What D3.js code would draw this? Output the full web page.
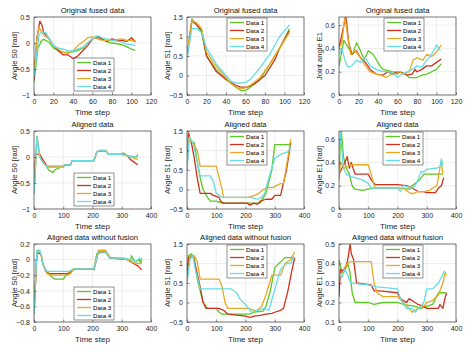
<!DOCTYPE html>
<html>
<head>
<meta charset="utf-8">
<script src="https://cdn.jsdelivr.net/npm/d3@7"></script>
<style>
  body { margin: 0; background: #fff; }
  svg { display: block; font-family: "Liberation Sans", Arial, sans-serif; }
</style>
</head>
<body>
<div id="chart"></div>
<script>
// series names + colours
const seriesNames = ["Data 1", "Data 2", "Data 3", "Data 4"];
const seriesColors = ["#5cc823", "#d0321d", "#e9a924", "#66dde6"];

// ---- Original fused data (time step 0..105) ----
const origS0 = [
  [[0,-0.75],[4,-0.1],[8,0.05],[10,0.07],[15,0.02],[20,-0.1],[25,-0.15],[30,-0.18],[35,-0.18],[40,-0.17],[45,-0.14],[50,-0.1],[55,0],[58,0.05],[63,0.12],[68,0.1],[75,0.02],[80,0],[90,-0.03],[95,-0.07],[100,-0.12],[104,-0.14]],
  [[0,-0.7],[3,0.1],[6,0.42],[8,0.35],[10,0.2],[15,0.1],[20,-0.05],[25,-0.15],[30,-0.23],[35,-0.23],[40,-0.3],[45,-0.25],[50,-0.15],[55,-0.05],[60,0.08],[65,0.12],[70,0.07],[75,0.03],[80,0.08],[85,0.05],[90,0.05],[95,0.03],[100,0.1],[104,0.02]],
  [[0,-0.6],[3,0.1],[5,0.3],[10,0.15],[15,0.08],[20,-0.05],[25,-0.12],[30,-0.18],[35,-0.2],[40,-0.15],[45,-0.05],[52,0.05],[55,0.1],[60,0.12],[65,0.08],[70,0.05],[80,0.05],[90,0.08],[95,0.05],[100,0.05],[104,0.03]],
  [[0,-0.65],[5,0.15],[8,0.22],[12,0.2],[15,0.1],[20,-0.05],[25,-0.1],[30,-0.12],[35,-0.15],[40,-0.15],[50,-0.08],[55,0],[60,0.08],[65,0.14],[70,0.1],[80,0.05],[90,0.02],[95,-0.02],[100,-0.03],[104,-0.05]]
];
const origS1 = [
  [[0,0.45],[5,1.45],[10,1.3],[15,1.1],[20,0.5],[30,0.15],[40,-0.1],[50,-0.3],[55,-0.38],[60,-0.38],[65,-0.3],[75,-0.1],[85,0.3],[95,0.7],[105,1.2]],
  [[0,0.5],[5,1.4],[10,1.3],[15,1.15],[20,0.5],[30,0.1],[40,-0.1],[50,-0.25],[55,-0.3],[62,-0.3],[70,-0.2],[80,0],[90,0.4],[95,0.7],[105,1.15]],
  [[0,0.5],[5,1.4],[10,1.35],[15,1.2],[20,0.6],[28,0.3],[38,0],[45,-0.2],[52,-0.32],[58,-0.33],[65,-0.25],[75,-0.05],[85,0.3],[95,0.7],[105,1.1]],
  [[0,0.45],[5,1.2],[10,1.2],[15,1.1],[20,0.7],[30,0.3],[40,0],[45,-0.15],[52,-0.2],[60,-0.18],[65,-0.1],[75,0.2],[85,0.55],[95,1.0],[105,1.3]]
];
const origE1 = [
  [[0,0.25],[5,0.47],[10,0.4],[14,0.35],[18,0.45],[22,0.38],[26,0.3],[30,0.38],[35,0.35],[42,0.25],[45,0.22],[50,0.21],[55,0.2],[60,0.18],[62,0.2],[68,0.18],[72,0.15],[80,0.15],[85,0.17],[90,0.18],[95,0.2],[100,0.22],[105,0.27]],
  [[0,0.4],[5,0.6],[7,0.68],[10,0.45],[13,0.35],[18,0.38],[22,0.32],[27,0.28],[32,0.22],[38,0.18],[45,0.17],[50,0.2],[55,0.18],[60,0.2],[65,0.19],[70,0.17],[75,0.18],[78,0.22],[80,0.2],[85,0.22],[90,0.25],[95,0.25],[100,0.28],[105,0.31]],
  [[0,0.4],[3,0.45],[6,0.68],[9,0.5],[12,0.35],[17,0.38],[22,0.32],[27,0.25],[32,0.2],[38,0.18],[43,0.17],[48,0.15],[52,0.17],[57,0.2],[62,0.2],[66,0.18],[72,0.2],[76,0.3],[80,0.32],[86,0.3],[90,0.35],[95,0.33],[100,0.37],[105,0.43]],
  [[0,0.35],[3,0.4],[6,0.3],[9,0.24],[13,0.25],[18,0.3],[22,0.28],[27,0.32],[32,0.25],[38,0.22],[45,0.2],[50,0.2],[55,0.19],[60,0.15],[65,0.18],[70,0.2],[75,0.22],[80,0.25],[85,0.24],[90,0.3],[95,0.35],[100,0.43],[104,0.38]]
];

// ---- Aligned data (time step 0..358) ----
const alignS0 = [
  [[0,-0.7],[10,0.4],[20,0],[30,-0.1],[45,-0.2],[50,-0.25],[65,-0.3],[70,-0.25],[90,-0.2],[100,-0.2],[105,-0.15],[125,-0.15],[130,-0.07],[205,-0.07],[215,0.1],[225,0.12],[245,0.12],[255,0.05],[300,0.05],[305,0.08],[320,0.02],[350,0],[355,0.05]],
  [[0,-0.7],[5,0.05],[20,0.05],[30,-0.05],[45,-0.18],[100,-0.18],[105,-0.15],[125,-0.15],[130,-0.07],[205,-0.07],[215,0.1],[225,0.12],[245,0.12],[255,0.05],[300,0.05],[320,0.02],[330,-0.05],[355,-0.15]],
  [[0,-0.7],[10,0.35],[20,0],[30,-0.1],[45,-0.18],[100,-0.18],[105,-0.15],[125,-0.15],[130,-0.07],[205,-0.07],[215,0.1],[225,0.13],[245,0.13],[255,0.05],[300,0.05],[320,0.02],[340,-0.02],[355,-0.05]],
  [[0,-0.7],[10,0.38],[20,0],[30,-0.1],[45,-0.2],[100,-0.2],[105,-0.15],[125,-0.15],[130,-0.07],[205,-0.07],[215,0.1],[225,0.12],[245,0.12],[255,0.05],[300,0.05],[320,0.02],[340,0],[355,0]]
];
const alignS1 = [
  [[0,0.5],[5,1.4],[15,1.2],[25,1.2],[35,0.7],[45,0.3],[55,0],[70,-0.2],[80,-0.3],[100,-0.3],[120,-0.35],[250,-0.35],[270,-0.1],[290,0.5],[300,1.15],[350,1.15],[355,1.2]],
  [[0,0.5],[5,1.45],[15,1.2],[25,0.8],[35,0.3],[45,-0.1],[80,-0.1],[90,-0.15],[110,-0.2],[115,-0.3],[125,-0.35],[205,-0.35],[215,-0.4],[230,-0.35],[240,-0.38],[250,-0.3],[270,-0.25],[290,-0.25],[300,-0.15],[320,-0.15],[340,0.5],[355,1.2]],
  [[0,0.5],[5,1.3],[20,1.2],[35,1.0],[45,0.6],[100,0.6],[110,0.3],[120,0],[125,-0.2],[210,-0.2],[230,-0.15],[245,-0.1],[260,0],[275,0.05],[295,0.05],[305,0.1],[320,0.15],[330,0.15],[340,0.6],[355,1.3]],
  [[0,0.5],[8,1.35],[20,1.2],[35,0.7],[45,0.35],[80,0.35],[90,0.2],[100,-0.1],[120,-0.2],[220,-0.2],[240,-0.25],[255,-0.2],[265,-0.1],[280,0.3],[300,0.8],[320,0.9],[340,0.95],[350,1.0],[355,1.1]]
];
const alignE1 = [
  [[0,0.3],[5,0.6],[8,0.67],[15,0.45],[25,0.35],[35,0.3],[45,0.2],[55,0.17],[80,0.16],[100,0.17],[120,0.18],[200,0.18],[240,0.17],[250,0.2],[260,0.22],[275,0.25],[290,0.3],[355,0.3]],
  [[0,0.3],[10,0.35],[20,0.4],[28,0.45],[35,0.35],[42,0.4],[48,0.35],[55,0.3],[100,0.3],[110,0.25],[120,0.22],[125,0.21],[200,0.21],[230,0.2],[250,0.18],[270,0.15],[290,0.15],[300,0.14],[330,0.14],[340,0.18],[350,0.2],[358,0.27]],
  [[0,0.25],[5,0.4],[10,0.38],[20,0.35],[40,0.38],[100,0.38],[110,0.3],[120,0.2],[125,0.18],[220,0.18],[235,0.15],[250,0.13],[270,0.15],[290,0.15],[310,0.16],[320,0.18],[335,0.2],[345,0.35],[350,0.42],[355,0.3]],
  [[0,0.45],[5,0.67],[10,0.5],[15,0.35],[25,0.3],[40,0.28],[80,0.25],[100,0.22],[110,0.18],[200,0.18],[210,0.15],[220,0.2],[250,0.18],[260,0.2],[270,0.25],[280,0.32],[290,0.32],[300,0.34],[330,0.35],[345,0.36],[350,0.43],[355,0.37]]
];

// ---- Aligned data without fusion (time step 0..368) ----
const rawS0 = [
  [[0,-0.7],[10,0.1],[20,0.1],[25,0.05],[30,-0.05],[35,-0.1],[45,-0.15],[55,-0.2],[70,-0.25],[100,-0.25],[110,-0.2],[125,-0.18],[130,-0.15],[140,-0.12],[205,-0.12],[215,0.08],[245,0.1],[260,0.02],[300,0.02],[320,0],[330,-0.02],[333,0.05],[345,-0.03],[360,0],[365,-0.05],[368,0.02]],
  [[0,-0.7],[10,0.08],[20,0.08],[25,0.05],[30,-0.05],[40,-0.15],[50,-0.18],[115,-0.18],[135,-0.12],[200,-0.12],[205,-0.13],[220,0.1],[245,0.1],[260,0.02],[320,0],[340,-0.05],[355,-0.08],[368,-0.13]],
  [[0,-0.7],[10,0.1],[20,0.1],[25,0.05],[30,-0.05],[35,-0.1],[45,-0.18],[60,-0.2],[115,-0.2],[125,-0.17],[135,-0.12],[205,-0.12],[220,0.12],[245,0.12],[260,0.03],[320,0],[345,-0.05],[368,-0.05]],
  [[0,-0.7],[10,0.12],[20,0.12],[25,0.05],[30,-0.05],[35,-0.1],[45,-0.15],[120,-0.15],[135,-0.12],[205,-0.12],[220,0.1],[245,0.1],[260,0.02],[310,0.02],[330,0],[350,-0.03],[360,0.02],[368,0]]
];
const rawS1 = [
  [[0,0.5],[5,1.2],[15,1.25],[25,1.15],[35,0.6],[45,0.3],[55,0],[70,-0.15],[100,-0.15],[110,-0.25],[120,-0.3],[215,-0.3],[225,-0.25],[260,-0.22],[270,-0.1],[285,0.3],[300,0.9],[335,1.15],[365,1.15]],
  [[0,0.5],[5,1.15],[20,1.2],[30,0.9],[45,0.4],[55,0],[65,-0.15],[110,-0.15],[125,-0.2],[140,-0.3],[200,-0.35],[215,-0.38],[230,-0.35],[250,-0.33],[270,-0.3],[290,-0.28],[300,-0.25],[320,-0.2],[330,-0.15],[345,0.3],[358,0.8],[368,1.15]],
  [[0,0.5],[10,1.2],[25,1.2],[35,1.05],[45,0.6],[110,0.6],[120,0.4],[130,0],[140,-0.15],[210,-0.15],[230,-0.2],[240,-0.2],[255,-0.1],[270,0.2],[290,0.7],[320,0.7],[335,1.0],[355,1.1],[368,1.3]],
  [[0,0.5],[10,1.1],[20,1.2],[30,0.8],[45,0.35],[150,0.35],[160,0.3],[170,0.25],[180,0.1],[200,-0.05],[220,-0.25],[240,-0.2],[265,-0.15],[280,-0.2],[295,0.2],[310,0.6],[320,0.85],[340,1.0],[355,1.0],[365,1.2]]
];
const rawE1 = [
  [[0,0.42],[10,0.35],[20,0.38],[30,0.4],[38,0.35],[45,0.25],[55,0.2],[100,0.2],[120,0.19],[150,0.2],[200,0.2],[220,0.19],[260,0.18],[280,0.17],[300,0.18],[320,0.19],[330,0.22],[340,0.25],[365,0.25]],
  [[0,0.23],[5,0.37],[20,0.36],[30,0.42],[38,0.5],[42,0.45],[50,0.42],[60,0.3],[110,0.29],[120,0.26],[140,0.26],[200,0.25],[210,0.22],[230,0.2],[240,0.22],[260,0.2],[270,0.19],[290,0.18],[300,0.17],[340,0.17],[345,0.19],[355,0.17],[362,0.22],[368,0.25]],
  [[0,0.35],[10,0.33],[20,0.38],[30,0.4],[40,0.41],[110,0.41],[120,0.3],[130,0.25],[150,0.23],[200,0.23],[220,0.2],[240,0.17],[250,0.15],[260,0.16],[280,0.18],[290,0.18],[300,0.2],[320,0.21],[340,0.24],[355,0.3],[362,0.35],[368,0.34]],
  [[0,0.35],[10,0.33],[20,0.37],[30,0.34],[40,0.3],[100,0.29],[130,0.28],[200,0.27],[210,0.22],[230,0.17],[250,0.17],[260,0.15],[280,0.18],[290,0.2],[300,0.27],[320,0.27],[340,0.3],[360,0.36],[365,0.35]]
];

// axis tick values
const ticksX120 = [0, 20, 40, 60, 80, 100, 120];
const ticksX400 = [0, 100, 200, 300, 400];
const ticksS0 = [-1, -0.5, 0, 0.5];
const ticksS1 = [-0.5, 0, 0.5, 1, 1.5];
const ticksE1 = [0, 0.2, 0.4, 0.6];
const ticksS0raw = [-0.8, -0.6, -0.4, -0.2, 0, 0.2];
const ticksE1raw = [0.1, 0.2, 0.3, 0.4, 0.5];

const panels = [
  { title: "Original fused data", ylab: "Angle S0 [rad]", data: origS0, xd: [0,120], xt: ticksX120, yd: [-1,0.5], yt: ticksS0, leg: [40,41] },
  { title: "Original fused data", ylab: "Angle S1 [rad]", data: origS1, xd: [0,120], xt: ticksX120, yd: [-0.5,1.5], yt: ticksS1, leg: [40,1] },
  { title: "Original fused data", ylab: "Joint angle E1", data: origE1, xd: [0,120], xt: ticksX120, yd: [0,0.67], yt: ticksE1, leg: [45,1] },
  { title: "Aligned data", ylab: "Angle S0 [rad]", data: alignS0, xd: [0,400], xt: ticksX400, yd: [-1,0.5], yt: ticksS0, leg: [40,42] },
  { title: "Aligned data", ylab: "Angle S1 [rad]", data: alignS1, xd: [0,400], xt: ticksX400, yd: [-0.5,1.5], yt: ticksS1, leg: [40,1] },
  { title: "Aligned data", ylab: "Angle E1 [rad]", data: alignE1, xd: [0,400], xt: ticksX400, yd: [0,0.67], yt: ticksE1, leg: [44,1] },
  { title: "Aligned data without fusion", ylab: "Angle S0 [rad]", data: rawS0, xd: [0,400], xt: ticksX400, yd: [-0.8,0.2], yt: ticksS0raw, leg: [40,43] },
  { title: "Aligned data without fusion", ylab: "Angle S1 [rad]", data: rawS1, xd: [0,400], xt: ticksX400, yd: [-0.5,1.5], yt: ticksS1, leg: [40,1] },
  { title: "Aligned data without fusion", ylab: "Angle E1 [rad]", data: rawE1, xd: [0,400], xt: ticksX400, yd: [0.1,0.5], yt: ticksE1raw, leg: [44,1] }
];

// grid placement of the 9 axes
const colX = [34, 187, 339];
const rowY = [17, 131, 244];
const pw = 117, ph = 78;

const svg = d3.select("#chart").append("svg")
  .attr("width", 474).attr("height", 352);

panels.forEach((p, i) => {
  const left = colX[i % 3], top = rowY[Math.floor(i / 3)];
  const g = svg.append("g").attr("transform", `translate(${left},${top})`);

  const x = d3.scaleLinear().domain(p.xd).range([0, pw]);
  const y = d3.scaleLinear().domain(p.yd).range([ph, 0]);

  // background
  g.append("rect").attr("width", pw).attr("height", ph).attr("fill", "#fff");

  // grid
  g.selectAll("line.gx").data(p.xt).enter().append("line")
    .attr("x1", d => x(d)).attr("x2", d => x(d))
    .attr("y1", 0).attr("y2", ph)
    .attr("stroke", "#e3e3e3").attr("stroke-width", 0.6);
  g.selectAll("line.gy").data(p.yt).enter().append("line")
    .attr("y1", d => y(d)).attr("y2", d => y(d))
    .attr("x1", 0).attr("x2", pw)
    .attr("stroke", "#e3e3e3").attr("stroke-width", 0.6);

  // clip + lines
  const clipId = "clip" + i;
  g.append("clipPath").attr("id", clipId)
    .append("rect").attr("width", pw).attr("height", ph);

  const line = d3.line().x(d => x(d[0])).y(d => y(d[1]));
  g.append("g").attr("clip-path", `url(#${clipId})`)
    .selectAll("path").data(p.data).enter().append("path")
      .attr("d", line)
      .attr("fill", "none")
      .attr("stroke", (d, k) => seriesColors[k])
      .attr("stroke-width", 1.3)
      .attr("stroke-linejoin", "round");

  // axes (ticks inward like matlab)
  const xAxis = d3.axisBottom(x).tickValues(p.xt).tickSize(-2.5).tickPadding(4).tickFormat(d3.format("~g"));
  const yAxis = d3.axisLeft(y).tickValues(p.yt).tickSize(-2.5).tickPadding(4).tickFormat(d3.format("~g"));

  const gx = g.append("g").attr("transform", `translate(0,${ph})`).call(xAxis);
  const gy = g.append("g").call(yAxis);
  [gx, gy].forEach(a => {
    a.select(".domain").remove();
    a.selectAll("line").attr("stroke", "#262626").attr("stroke-width", 0.5);
    a.selectAll("text").attr("fill", "#262626").style("font-size", "7px");
  });

  // box
  g.append("rect").attr("width", pw).attr("height", ph)
    .attr("fill", "none").attr("stroke", "#262626").attr("stroke-width", 0.6);

  // title + labels
  g.append("text")
    .attr("x", pw / 2).attr("y", -4)
    .attr("text-anchor", "middle")
    .style("font-size", "7.6px")
    .style("font-weight", "normal")
    .attr("fill", "#111")
    .text(p.title);

  g.append("text")
    .attr("x", pw / 2).attr("y", ph + 20)
    .attr("text-anchor", "middle")
    .style("font-size", "8px")
    .attr("fill", "#262626")
    .text("Time step");

  g.append("text")
    .attr("transform", `translate(-17,${ph / 2}) rotate(-90)`)
    .attr("text-anchor", "middle")
    .style("font-size", "7.6px")
    .attr("fill", "#262626")
    .text(p.ylab);

  // legend
  const lw = 40, lh = 33;
  const lg = g.append("g").attr("transform", `translate(${p.leg[0]},${p.leg[1]})`);
  lg.append("rect").attr("width", lw).attr("height", lh)
    .attr("fill", "#fff").attr("stroke", "#262626").attr("stroke-width", 0.5);
  seriesNames.forEach((name, k) => {
    const yy = 4.5 + k * 8;
    lg.append("line")
      .attr("x1", 3).attr("x2", 17).attr("y1", yy).attr("y2", yy)
      .attr("stroke", seriesColors[k]).attr("stroke-width", 1.3);
    lg.append("text")
      .attr("x", 19).attr("y", yy + 2.2)
      .style("font-size", "6.2px")
      .attr("fill", "#000")
      .text(name);
  });
});
</script>
</body>
</html>
